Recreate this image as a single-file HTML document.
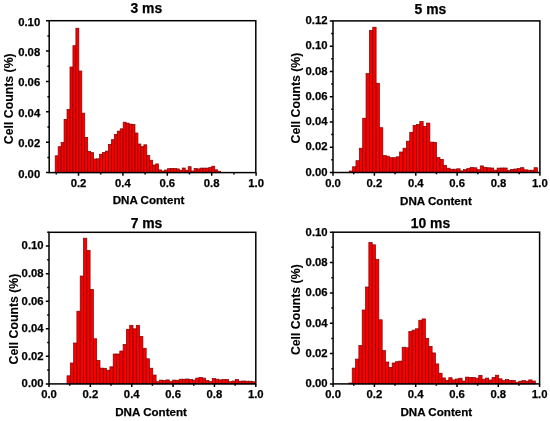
<!DOCTYPE html>
<html><head><meta charset="utf-8"><title>DNA Content Histograms</title>
<style>
html,body{margin:0;padding:0;background:#fff;}
body{width:550px;height:421px;overflow:hidden;}
svg{display:block;filter:blur(0.3px);}
text{font-family:"Liberation Sans",Arial,sans-serif;font-weight:bold;fill:#000;stroke:#000;stroke-width:0.25px;}
.tl text{font-size:11.3px;}
.ti{font-size:13.9px;}
.xl{font-size:11.6px;}
.yl{font-size:12.3px;stroke-width:0.1px;}
</style></head>
<body>
<svg width="550" height="421" viewBox="0 0 550 421">
<rect width="550" height="421" fill="#fff"/>
<g fill="#f80000" stroke="#800000" stroke-width="0.7"><rect x="55.2" y="155.8" width="2.96" height="16.8"/><rect x="58.16" y="146.7" width="2.96" height="25.9"/><rect x="61.11" y="142.5" width="2.96" height="30.1"/><rect x="64.06" y="119.4" width="2.96" height="53.2"/><rect x="67.02" y="109.4" width="2.96" height="63.2"/><rect x="69.98" y="67" width="2.96" height="105.6"/><rect x="72.93" y="45.7" width="2.96" height="126.9"/><rect x="75.89" y="28.2" width="2.96" height="144.4"/><rect x="78.84" y="71" width="2.96" height="101.6"/><rect x="81.8" y="113.1" width="2.96" height="59.5"/><rect x="84.75" y="137.4" width="2.96" height="35.2"/><rect x="87.71" y="151.5" width="2.96" height="21.1"/><rect x="90.66" y="152.6" width="2.96" height="20"/><rect x="93.62" y="159" width="2.96" height="13.6"/><rect x="96.57" y="158.8" width="2.96" height="13.8"/><rect x="99.53" y="154.2" width="2.96" height="18.4"/><rect x="102.48" y="152.4" width="2.96" height="20.2"/><rect x="105.44" y="151.1" width="2.96" height="21.5"/><rect x="108.39" y="144.4" width="2.96" height="28.2"/><rect x="111.34" y="139.7" width="2.96" height="32.9"/><rect x="114.3" y="134.4" width="2.96" height="38.2"/><rect x="117.25" y="131.1" width="2.96" height="41.5"/><rect x="120.21" y="128.8" width="2.96" height="43.8"/><rect x="123.17" y="122.2" width="2.96" height="50.4"/><rect x="126.12" y="123.1" width="2.96" height="49.5"/><rect x="129.07" y="124.1" width="2.96" height="48.5"/><rect x="132.03" y="124.5" width="2.96" height="48.1"/><rect x="134.99" y="133" width="2.96" height="39.6"/><rect x="137.94" y="144" width="2.96" height="28.6"/><rect x="140.9" y="146.7" width="2.96" height="25.9"/><rect x="143.85" y="144.8" width="2.96" height="27.8"/><rect x="146.81" y="155.4" width="2.96" height="17.2"/><rect x="149.76" y="160.2" width="2.96" height="12.4"/><rect x="152.72" y="165" width="2.96" height="7.6"/><rect x="155.67" y="163.9" width="2.96" height="8.7"/><rect x="158.62" y="169.9" width="2.96" height="2.7"/><rect x="161.58" y="171" width="2.96" height="1.6"/><rect x="164.54" y="170" width="2.96" height="2.6"/><rect x="167.49" y="168.7" width="2.96" height="3.9"/><rect x="170.44" y="168.4" width="2.96" height="4.2"/><rect x="173.4" y="168.5" width="2.96" height="4.1"/><rect x="176.36" y="168.9" width="2.96" height="3.7"/><rect x="179.31" y="170.2" width="2.96" height="2.4"/><rect x="182.26" y="168" width="2.96" height="4.6"/><rect x="185.22" y="170.2" width="2.96" height="2.4"/><rect x="188.18" y="166.7" width="2.96" height="5.9"/><rect x="191.13" y="171" width="2.96" height="1.6"/><rect x="194.08" y="168.5" width="2.96" height="4.1"/><rect x="197.04" y="168.9" width="2.96" height="3.7"/><rect x="200" y="168.1" width="2.96" height="4.5"/><rect x="202.95" y="168.1" width="2.96" height="4.5"/><rect x="205.91" y="168.1" width="2.96" height="4.5"/><rect x="208.86" y="167.6" width="2.96" height="5"/><rect x="211.81" y="166.2" width="2.96" height="6.4"/><rect x="214.77" y="169.8" width="2.96" height="2.8"/><rect x="217.73" y="171.3" width="2.96" height="1.3"/></g>
<rect x="49.2" y="20.7" width="206.6" height="151.9" fill="none" stroke="#000" stroke-width="1.5"/>
<path d="M46 172.6H49.2M46 142.22H49.2M46 111.84H49.2M46 81.46H49.2M46 51.08H49.2M46 20.7H49.2M47.4 157.41H49.2M47.4 127.03H49.2M47.4 96.65H49.2M47.4 66.27H49.2M47.4 35.89H49.2M78.5 172.6V175.8M122.9 172.6V175.8M167.3 172.6V175.8M211.7 172.6V175.8M256.1 172.6V175.8M56.3 172.6V174.4M100.7 172.6V174.4M145.1 172.6V174.4M189.5 172.6V174.4M233.9 172.6V174.4" stroke="#000" stroke-width="1.5" fill="none"/>
<g class="tl"><text x="40.2" y="177.5" text-anchor="end">0.00</text><text x="40.2" y="147.12" text-anchor="end">0.02</text><text x="40.2" y="116.74" text-anchor="end">0.04</text><text x="40.2" y="86.36" text-anchor="end">0.06</text><text x="40.2" y="55.98" text-anchor="end">0.08</text><text x="40.2" y="25.6" text-anchor="end">0.10</text><text x="78.5" y="186.5" text-anchor="middle">0.2</text><text x="122.9" y="186.5" text-anchor="middle">0.4</text><text x="167.3" y="186.5" text-anchor="middle">0.6</text><text x="211.7" y="186.5" text-anchor="middle">0.8</text><text x="256.1" y="186.5" text-anchor="middle">1.0</text></g>
<text class="ti" x="146.3" y="13.3" text-anchor="middle">3 ms</text>
<text class="xl" x="148.5" y="204.1" text-anchor="middle">DNA Content</text>
<text class="yl" transform="translate(13.3 98.75) rotate(-90)" text-anchor="middle">Cell Counts (%)</text>
<g fill="#f80000" stroke="#800000" stroke-width="0.7"><rect x="349.24" y="171" width="3.36" height="1.5"/><rect x="352.6" y="166.8" width="3.36" height="5.7"/><rect x="355.96" y="160.7" width="3.36" height="11.8"/><rect x="359.32" y="148.2" width="3.36" height="24.3"/><rect x="362.68" y="118.2" width="3.36" height="54.3"/><rect x="366.04" y="73.6" width="3.36" height="98.9"/><rect x="369.4" y="30.6" width="3.36" height="141.9"/><rect x="372.76" y="27.2" width="3.36" height="145.3"/><rect x="376.12" y="83.3" width="3.36" height="89.2"/><rect x="379.48" y="127.7" width="3.36" height="44.8"/><rect x="382.84" y="155.5" width="3.36" height="17"/><rect x="386.2" y="156.2" width="3.36" height="16.3"/><rect x="389.56" y="157.7" width="3.36" height="14.8"/><rect x="392.92" y="157.7" width="3.36" height="14.8"/><rect x="396.28" y="156.8" width="3.36" height="15.7"/><rect x="399.64" y="152" width="3.36" height="20.5"/><rect x="403" y="148.2" width="3.36" height="24.3"/><rect x="406.36" y="141.2" width="3.36" height="31.3"/><rect x="409.72" y="132.3" width="3.36" height="40.2"/><rect x="413.08" y="125.4" width="3.36" height="47.1"/><rect x="416.44" y="124.5" width="3.36" height="48"/><rect x="419.8" y="121.6" width="3.36" height="50.9"/><rect x="423.16" y="126.4" width="3.36" height="46.1"/><rect x="426.52" y="123.1" width="3.36" height="49.4"/><rect x="429.88" y="142.1" width="3.36" height="30.4"/><rect x="433.24" y="142.3" width="3.36" height="30.2"/><rect x="436.6" y="157.5" width="3.36" height="15"/><rect x="439.96" y="159.4" width="3.36" height="13.1"/><rect x="443.32" y="165.5" width="3.36" height="7"/><rect x="446.68" y="168.2" width="3.36" height="4.3"/><rect x="450.04" y="169.2" width="3.36" height="3.3"/><rect x="453.4" y="169.2" width="3.36" height="3.3"/><rect x="456.76" y="168.8" width="3.36" height="3.7"/><rect x="460.12" y="170.9" width="3.36" height="1.6"/><rect x="463.48" y="169.6" width="3.36" height="2.9"/><rect x="466.84" y="168.6" width="3.36" height="3.9"/><rect x="470.2" y="167.5" width="3.36" height="5"/><rect x="473.56" y="167.8" width="3.36" height="4.7"/><rect x="476.92" y="169.7" width="3.36" height="2.8"/><rect x="480.28" y="165.9" width="3.36" height="6.6"/><rect x="483.64" y="167.3" width="3.36" height="5.2"/><rect x="487" y="167.8" width="3.36" height="4.7"/><rect x="490.36" y="168" width="3.36" height="4.5"/><rect x="493.72" y="170.2" width="3.36" height="2.3"/><rect x="497.08" y="168.1" width="3.36" height="4.4"/><rect x="500.44" y="168" width="3.36" height="4.5"/><rect x="503.8" y="168" width="3.36" height="4.5"/><rect x="507.16" y="170.6" width="3.36" height="1.9"/><rect x="510.52" y="169.4" width="3.36" height="3.1"/><rect x="513.88" y="169" width="3.36" height="3.5"/><rect x="517.24" y="168.5" width="3.36" height="4"/><rect x="520.6" y="167.7" width="3.36" height="4.8"/><rect x="523.96" y="169.8" width="3.36" height="2.7"/><rect x="527.32" y="170.2" width="3.36" height="2.3"/><rect x="530.68" y="170.2" width="3.36" height="2.3"/><rect x="534.04" y="167.7" width="3.36" height="4.8"/></g>
<rect x="333" y="20.9" width="206.9" height="151.6" fill="none" stroke="#000" stroke-width="1.5"/>
<path d="M329.8 172.5H333M329.8 147.23H333M329.8 121.97H333M329.8 96.7H333M329.8 71.43H333M329.8 46.17H333M329.8 20.9H333M331.2 159.87H333M331.2 134.6H333M331.2 109.33H333M331.2 84.07H333M331.2 58.8H333M331.2 33.53H333M333 172.5V175.7M374.38 172.5V175.7M415.76 172.5V175.7M457.14 172.5V175.7M498.52 172.5V175.7M539.9 172.5V175.7M353.69 172.5V174.3M395.07 172.5V174.3M436.45 172.5V174.3M477.83 172.5V174.3M519.21 172.5V174.3" stroke="#000" stroke-width="1.5" fill="none"/>
<g class="tl"><text x="327.5" y="175.7" text-anchor="end">0.00</text><text x="327.5" y="150.43" text-anchor="end">0.02</text><text x="327.5" y="125.17" text-anchor="end">0.04</text><text x="327.5" y="99.9" text-anchor="end">0.06</text><text x="327.5" y="74.63" text-anchor="end">0.08</text><text x="327.5" y="49.37" text-anchor="end">0.10</text><text x="327.5" y="24.1" text-anchor="end">0.12</text><text x="333" y="186.9" text-anchor="middle">0.0</text><text x="374.38" y="186.9" text-anchor="middle">0.2</text><text x="415.76" y="186.9" text-anchor="middle">0.4</text><text x="457.14" y="186.9" text-anchor="middle">0.6</text><text x="498.52" y="186.9" text-anchor="middle">0.8</text><text x="539.9" y="186.9" text-anchor="middle">1.0</text></g>
<text class="ti" x="430.4" y="13.7" text-anchor="middle">5 ms</text>
<text class="xl" x="435.9" y="204.5" text-anchor="middle">DNA Content</text>
<text class="yl" transform="translate(300.4 98.05) rotate(-90)" text-anchor="middle">Cell Counts (%)</text>
<g fill="#f80000" stroke="#800000" stroke-width="0.7"><rect x="67" y="375.8" width="3.3" height="8.1"/><rect x="70.3" y="363" width="3.3" height="20.9"/><rect x="73.6" y="343" width="3.3" height="40.9"/><rect x="76.9" y="311.2" width="3.3" height="72.7"/><rect x="80.2" y="276" width="3.3" height="107.9"/><rect x="83.5" y="238.2" width="3.3" height="145.7"/><rect x="86.8" y="250.5" width="3.3" height="133.4"/><rect x="90.1" y="289.4" width="3.3" height="94.5"/><rect x="93.4" y="338.8" width="3.3" height="45.1"/><rect x="96.7" y="360.5" width="3.3" height="23.4"/><rect x="100" y="368.1" width="3.3" height="15.8"/><rect x="103.3" y="368.3" width="3.3" height="15.6"/><rect x="106.6" y="370.2" width="3.3" height="13.7"/><rect x="109.9" y="366.8" width="3.3" height="17.1"/><rect x="113.2" y="354" width="3.3" height="29.9"/><rect x="116.5" y="354" width="3.3" height="29.9"/><rect x="119.8" y="351" width="3.3" height="32.9"/><rect x="123.1" y="344.4" width="3.3" height="39.5"/><rect x="126.4" y="329.3" width="3.3" height="54.6"/><rect x="129.7" y="325.3" width="3.3" height="58.6"/><rect x="133" y="328.8" width="3.3" height="55.1"/><rect x="136.3" y="325.3" width="3.3" height="58.6"/><rect x="139.6" y="336.4" width="3.3" height="47.5"/><rect x="142.9" y="348.3" width="3.3" height="35.6"/><rect x="146.2" y="358.8" width="3.3" height="25.1"/><rect x="149.5" y="368.2" width="3.3" height="15.7"/><rect x="152.8" y="375" width="3.3" height="8.9"/><rect x="156.1" y="381.7" width="3.3" height="2.2"/><rect x="159.4" y="380.1" width="3.3" height="3.8"/><rect x="162.7" y="380.6" width="3.3" height="3.3"/><rect x="166" y="379.9" width="3.3" height="4"/><rect x="169.3" y="381.7" width="3.3" height="2.2"/><rect x="172.6" y="380.1" width="3.3" height="3.8"/><rect x="175.9" y="380.3" width="3.3" height="3.6"/><rect x="179.2" y="379.2" width="3.3" height="4.7"/><rect x="182.5" y="379.2" width="3.3" height="4.7"/><rect x="185.8" y="379" width="3.3" height="4.9"/><rect x="189.1" y="379.5" width="3.3" height="4.4"/><rect x="192.4" y="380.1" width="3.3" height="3.8"/><rect x="195.7" y="378.1" width="3.3" height="5.8"/><rect x="199" y="377.4" width="3.3" height="6.5"/><rect x="202.3" y="378.1" width="3.3" height="5.8"/><rect x="205.6" y="380.6" width="3.3" height="3.3"/><rect x="208.9" y="381.7" width="3.3" height="2.2"/><rect x="212.2" y="378.4" width="3.3" height="5.5"/><rect x="215.5" y="379.2" width="3.3" height="4.7"/><rect x="218.8" y="379.9" width="3.3" height="4"/><rect x="222.1" y="379.5" width="3.3" height="4.4"/><rect x="225.4" y="379.5" width="3.3" height="4.4"/><rect x="228.7" y="381.7" width="3.3" height="2.2"/><rect x="232" y="381" width="3.3" height="2.9"/><rect x="235.3" y="379.5" width="3.3" height="4.4"/><rect x="238.6" y="381.2" width="3.3" height="2.7"/><rect x="241.9" y="381" width="3.3" height="2.9"/><rect x="245.2" y="381.2" width="3.3" height="2.7"/><rect x="248.5" y="381.2" width="3.3" height="2.7"/><rect x="251.8" y="381.7" width="3.3" height="2.2"/></g>
<rect x="49" y="232.3" width="206.8" height="151.6" fill="none" stroke="#000" stroke-width="1.5"/>
<path d="M45.8 383.9H49M45.8 356.34H49M45.8 328.77H49M45.8 301.21H49M45.8 273.65H49M45.8 246.08H49M47.2 370.12H49M47.2 342.55H49M47.2 314.99H49M47.2 287.43H49M47.2 259.86H49M47.2 232.3H49M49 383.9V387.1M90.36 383.9V387.1M131.72 383.9V387.1M173.08 383.9V387.1M214.44 383.9V387.1M255.8 383.9V387.1M69.68 383.9V385.7M111.04 383.9V385.7M152.4 383.9V385.7M193.76 383.9V385.7M235.12 383.9V385.7" stroke="#000" stroke-width="1.5" fill="none"/>
<g class="tl"><text x="43.6" y="387.2" text-anchor="end">0.00</text><text x="43.6" y="359.64" text-anchor="end">0.02</text><text x="43.6" y="332.07" text-anchor="end">0.04</text><text x="43.6" y="304.51" text-anchor="end">0.06</text><text x="43.6" y="276.95" text-anchor="end">0.08</text><text x="43.6" y="249.38" text-anchor="end">0.10</text><text x="49" y="398" text-anchor="middle">0.0</text><text x="90.36" y="398" text-anchor="middle">0.2</text><text x="131.72" y="398" text-anchor="middle">0.4</text><text x="173.08" y="398" text-anchor="middle">0.6</text><text x="214.44" y="398" text-anchor="middle">0.8</text><text x="255.8" y="398" text-anchor="middle">1.0</text></g>
<text class="ti" x="146.5" y="227.5" text-anchor="middle">7 ms</text>
<text class="xl" x="151.1" y="415.5" text-anchor="middle">DNA Content</text>
<text class="yl" transform="translate(17.8 319.05) rotate(-90)" text-anchor="middle">Cell Counts (%)</text>
<g fill="#f80000" stroke="#800000" stroke-width="0.7"><rect x="348.87" y="383" width="3.33" height="0.9"/><rect x="352.2" y="368.1" width="3.33" height="15.8"/><rect x="355.53" y="359.1" width="3.33" height="24.8"/><rect x="358.86" y="345.5" width="3.33" height="38.4"/><rect x="362.19" y="310" width="3.33" height="73.9"/><rect x="365.52" y="287" width="3.33" height="96.9"/><rect x="368.85" y="242.4" width="3.33" height="141.5"/><rect x="372.18" y="244.8" width="3.33" height="139.1"/><rect x="375.51" y="259.5" width="3.33" height="124.4"/><rect x="378.84" y="319.8" width="3.33" height="64.1"/><rect x="382.17" y="350.6" width="3.33" height="33.3"/><rect x="385.5" y="362" width="3.33" height="21.9"/><rect x="388.83" y="367.4" width="3.33" height="16.5"/><rect x="392.16" y="363" width="3.33" height="20.9"/><rect x="395.49" y="361.7" width="3.33" height="22.2"/><rect x="398.82" y="361.1" width="3.33" height="22.8"/><rect x="402.15" y="347.2" width="3.33" height="36.7"/><rect x="405.48" y="347.8" width="3.33" height="36.1"/><rect x="408.81" y="331.6" width="3.33" height="52.3"/><rect x="412.14" y="330.1" width="3.33" height="53.8"/><rect x="415.47" y="328.8" width="3.33" height="55.1"/><rect x="418.8" y="320.2" width="3.33" height="63.7"/><rect x="422.13" y="318.9" width="3.33" height="65"/><rect x="425.46" y="338.3" width="3.33" height="45.6"/><rect x="428.79" y="346.4" width="3.33" height="37.5"/><rect x="432.12" y="352.9" width="3.33" height="31"/><rect x="435.45" y="363.9" width="3.33" height="20"/><rect x="438.78" y="373.2" width="3.33" height="10.7"/><rect x="442.11" y="377.9" width="3.33" height="6"/><rect x="445.44" y="380.4" width="3.33" height="3.5"/><rect x="448.77" y="377.7" width="3.33" height="6.2"/><rect x="452.1" y="379.9" width="3.33" height="4"/><rect x="455.43" y="379" width="3.33" height="4.9"/><rect x="458.76" y="378.2" width="3.33" height="5.7"/><rect x="462.09" y="381" width="3.33" height="2.9"/><rect x="465.42" y="377.1" width="3.33" height="6.8"/><rect x="468.75" y="377.4" width="3.33" height="6.5"/><rect x="472.08" y="377.4" width="3.33" height="6.5"/><rect x="475.41" y="378.2" width="3.33" height="5.7"/><rect x="478.74" y="375.4" width="3.33" height="8.5"/><rect x="482.07" y="379.2" width="3.33" height="4.7"/><rect x="485.4" y="378.1" width="3.33" height="5.8"/><rect x="488.73" y="380" width="3.33" height="3.9"/><rect x="492.06" y="377.4" width="3.33" height="6.5"/><rect x="495.39" y="375.2" width="3.33" height="8.7"/><rect x="498.72" y="378.8" width="3.33" height="5.1"/><rect x="502.05" y="380.6" width="3.33" height="3.3"/><rect x="505.38" y="379.5" width="3.33" height="4.4"/><rect x="508.71" y="380.3" width="3.33" height="3.6"/><rect x="512.04" y="380.6" width="3.33" height="3.3"/><rect x="515.37" y="382.3" width="3.33" height="1.6"/><rect x="518.7" y="381.2" width="3.33" height="2.7"/><rect x="522.03" y="380.6" width="3.33" height="3.3"/><rect x="525.36" y="381.2" width="3.33" height="2.7"/><rect x="528.69" y="379.9" width="3.33" height="4"/><rect x="532.02" y="381" width="3.33" height="2.9"/></g>
<rect x="333.1" y="232.2" width="206.5" height="151.7" fill="none" stroke="#000" stroke-width="1.5"/>
<path d="M329.9 383.9H333.1M329.9 353.56H333.1M329.9 323.22H333.1M329.9 292.88H333.1M329.9 262.54H333.1M329.9 232.2H333.1M331.3 368.73H333.1M331.3 338.39H333.1M331.3 308.05H333.1M331.3 277.71H333.1M331.3 247.37H333.1M333.1 383.9V387.1M374.4 383.9V387.1M415.7 383.9V387.1M457 383.9V387.1M498.3 383.9V387.1M539.6 383.9V387.1M353.75 383.9V385.7M395.05 383.9V385.7M436.35 383.9V385.7M477.65 383.9V385.7M518.95 383.9V385.7" stroke="#000" stroke-width="1.5" fill="none"/>
<g class="tl"><text x="327.6" y="387.3" text-anchor="end">0.00</text><text x="327.6" y="356.96" text-anchor="end">0.02</text><text x="327.6" y="326.62" text-anchor="end">0.04</text><text x="327.6" y="296.28" text-anchor="end">0.06</text><text x="327.6" y="265.94" text-anchor="end">0.08</text><text x="327.6" y="235.6" text-anchor="end">0.10</text><text x="333.1" y="397.8" text-anchor="middle">0.0</text><text x="374.4" y="397.8" text-anchor="middle">0.2</text><text x="415.7" y="397.8" text-anchor="middle">0.4</text><text x="457" y="397.8" text-anchor="middle">0.6</text><text x="498.3" y="397.8" text-anchor="middle">0.8</text><text x="539.6" y="397.8" text-anchor="middle">1.0</text></g>
<text class="ti" x="430.5" y="227.5" text-anchor="middle">10 ms</text>
<text class="xl" x="436.3" y="415.5" text-anchor="middle">DNA Content</text>
<text class="yl" transform="translate(300.2 309.7) rotate(-90)" text-anchor="middle">Cell Counts (%)</text>
</svg>
</body></html>
